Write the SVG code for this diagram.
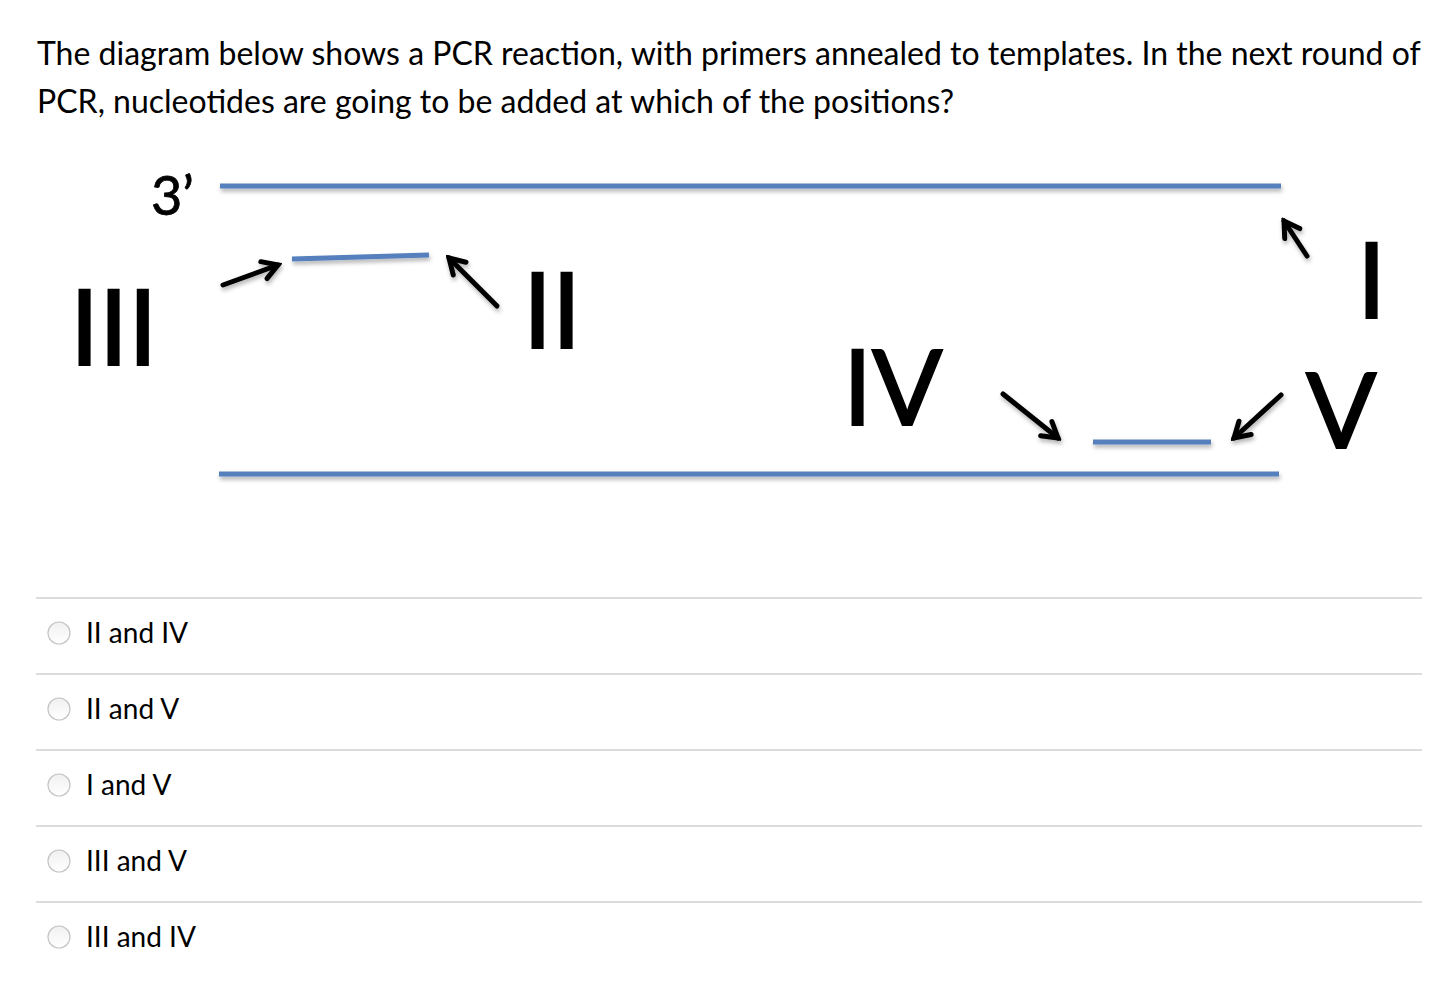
<svg xmlns="http://www.w3.org/2000/svg" width="1450" height="992" viewBox="0 0 1450 992">
<style>
.q{font-family:Lato,"Open Sans","Liberation Sans",sans-serif;font-size:32px;fill:#000}
.opt{font-family:Lato,"Open Sans","Liberation Sans",sans-serif;font-size:28px;fill:#000}
.lab{font-family:Lato,"Open Sans","Liberation Sans",sans-serif;font-size:104px;fill:#000;stroke:#000;stroke-width:2}
.dna{stroke:#5580bd;stroke-width:5;fill:none;filter:url(#sh)}
.arr{stroke:#000;stroke-width:5;fill:none;stroke-linecap:round;filter:url(#sh)}
.sep{stroke:#dcdcdc;stroke-width:2}
.radio{fill:url(#rg);stroke:#c4c4c4;stroke-width:1.2}
</style>
<defs>
<filter id="sh" filterUnits="userSpaceOnUse" x="0" y="0" width="1450" height="992">
<feDropShadow dx="1" dy="3" stdDeviation="2" flood-color="#000" flood-opacity="0.3"/>
</filter>
<linearGradient id="rg" x1="0" y1="0" x2="0" y2="1">
<stop offset="0" stop-color="#f0f0f0"/>
<stop offset="1" stop-color="#ffffff"/>
</linearGradient>
<marker id="ah" viewBox="0 0 24 24" refX="20" refY="12" markerWidth="24" markerHeight="24" markerUnits="userSpaceOnUse" orient="auto">
<path d="M5,3 L20,12 L5,21" fill="none" stroke="#000" stroke-width="5" stroke-linecap="round" stroke-linejoin="miter"/>
</marker>
</defs>
<rect width="1450" height="992" fill="#fff"/>
<g id="question">
<text class="q" x="37" y="65">The diagram below shows a PCR reaction, with primers annealed to templates. In the next round of</text>
<text class="q" x="37" y="113">PCR, nucleotides are going to be added at which of the positions?</text>
</g>
<g id="strands">
<line id="top-template" class="dna" x1="220" y1="186" x2="1281" y2="186"/>
<line id="bottom-template" class="dna" x1="219" y1="474" x2="1279" y2="474"/>
<line id="primer-top" class="dna" x1="292" y1="259" x2="429" y2="255"/>
<line id="primer-bottom" class="dna" x1="1093" y1="442" x2="1211" y2="442"/>
</g>
<g id="labels">
<text class="lab" style="font-size:54px;stroke-width:0.8" x="151" y="215">3’</text>
<text id="label-III" class="lab" x="70" y="365">III</text>
<text id="label-II" class="lab" x="523" y="348">II</text>
<text id="label-I" class="lab" x="1357" y="318">I</text>
<text id="label-IV" class="lab" x="843" y="425">IV</text>
<text id="label-V" class="lab" x="1306" y="448">V</text>
</g>
<g id="connectors">
<line class="arr" x1="223" y1="285" x2="278" y2="265" marker-end="url(#ah)"/>
<line class="arr" x1="497" y1="306" x2="449" y2="258" marker-end="url(#ah)"/>
<line class="arr" x1="1307" y1="256" x2="1284" y2="221" marker-end="url(#ah)"/>
<line class="arr" x1="1003" y1="394" x2="1058" y2="438" marker-end="url(#ah)"/>
<line class="arr" x1="1281" y1="395" x2="1234" y2="438" marker-end="url(#ah)"/>
</g>
<g id="options">
<line class="sep" x1="36" y1="598" x2="1422" y2="598"/>
<line class="sep" x1="36" y1="674" x2="1422" y2="674"/>
<line class="sep" x1="36" y1="750" x2="1422" y2="750"/>
<line class="sep" x1="36" y1="826" x2="1422" y2="826"/>
<line class="sep" x1="36" y1="902" x2="1422" y2="902"/>
<g id="opt1"><circle class="radio" cx="59" cy="633" r="11"/><text class="opt" x="86" y="643">II and IV</text></g>
<g id="opt2"><circle class="radio" cx="59" cy="709" r="11"/><text class="opt" x="86" y="719">II and V</text></g>
<g id="opt3"><circle class="radio" cx="59" cy="785" r="11"/><text class="opt" x="86" y="795">I and V</text></g>
<g id="opt4"><circle class="radio" cx="59" cy="861" r="11"/><text class="opt" x="86" y="871">III and V</text></g>
<g id="opt5"><circle class="radio" cx="59" cy="937" r="11"/><text class="opt" x="86" y="947">III and IV</text></g>
</g>
</svg>
